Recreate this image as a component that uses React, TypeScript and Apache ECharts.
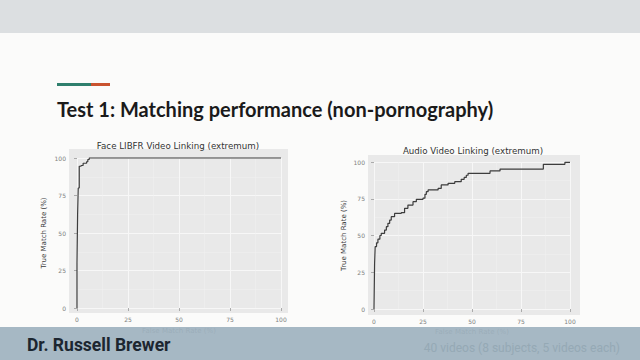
import React, { useEffect, useRef } from "react";
import * as echarts from "echarts";

const xTicks = [0, 25, 50, 75, 100];
const faceCurve: number[][] = [
  [0, 0], [0, 30], [0.3, 63], [0.6, 80], [1.1, 94.5], [2, 95], [3, 96.5],
  [4.7, 97.5], [5.3, 99], [6, 100], [100, 100],
];
const audioCurve: number[][] = [
  [0, 0], [0.3, 31], [0.6, 42.5], [1.3, 45], [2, 47.5], [3, 50], [3.7, 51.5],
  [5.4, 53.7], [6.3, 56], [7.1, 58.3], [8, 60.5], [8.8, 62.8], [10.5, 65],
  [13.9, 65.5], [15.6, 68.5], [17.3, 70.7], [19.9, 73], [21.6, 74.6], [25, 75.4],
  [26, 78], [26.7, 79.8], [27.6, 81], [32.7, 82], [34.3, 84.4], [37.8, 85.5],
  [41.2, 86.6], [44.5, 88.2], [46, 89.5], [47.1, 91], [48, 92.3], [59.2, 93.9],
  [64.3, 95.2], [86.4, 98.4], [97.4, 99.8], [100, 100],
];
const titles = ["Face LIBFR Video Linking (extremum)", "Audio Video Linking (extremum)"];
const xName = "False Match Rate (%)";
const yName = "True Match Rate (%)";
const slideTitle = "Test 1: Matching performance (non-pornography)";
const speaker = "Dr. Russell Brewer";
const footnote = "40 videos (8 subjects, 5 videos each)";

export default function App() {
  const ref = useRef<HTMLDivElement>(null);
  useEffect(() => {
    if (!ref.current) return;
    const chart = echarts.init(ref.current, undefined, { renderer: "svg" });
    const axisCommon = (gi: number, offset: number) => ({
      gridIndex: gi,
      type: "value" as const,
      min: xTicks[0],
      max: xTicks[xTicks.length - 1],
      interval: 25,
      offset,
      axisLine: { show: false },
      axisTick: { show: true, length: 3, lineStyle: { color: "#9a9a9a", width: 0.8 } },
      axisLabel: { fontSize: 6, color: "#808080", margin: 3, fontFamily: "DejaVu Sans" },
      splitLine: { show: true, lineStyle: { color: "#f7f7f7", width: 1 } },
      minorTick: { show: false, splitNumber: 2 },
      minorSplitLine: { show: true, lineStyle: { color: "#f0f0f0", width: 0.5 } },
      nameTextStyle: { fontSize: 7, color: "#3a3a3a", fontFamily: "DejaVu Sans" },
    });
    chart.setOption({
      animation: false,
      backgroundColor: "#fbfbfa",
      title: [
        { text: titles[0], left: 173, top: 136, textAlign: "center", textStyle: { fontSize: 8.7, fontWeight: "normal", color: "#333", fontFamily: "DejaVu Sans" } },
        { text: titles[1], left: 468, top: 141, textAlign: "center", textStyle: { fontSize: 8.7, fontWeight: "normal", color: "#333", fontFamily: "DejaVu Sans" } },
      ],
      grid: [
        { left: 77, right: 359, top: 158, bottom: 52 },
        { left: 374, right: 70, top: 162, bottom: 51 },
      ],
      xAxis: [
        { ...axisCommon(0, 5), name: xName, nameLocation: "middle", nameGap: 14 },
        { ...axisCommon(1, 6), name: xName, nameLocation: "middle", nameGap: 13 },
      ],
      yAxis: [
        { ...axisCommon(0, 8), name: yName, nameLocation: "middle", nameGap: 22 },
        { ...axisCommon(1, 6), name: yName, nameLocation: "middle", nameGap: 21 },
      ],
      series: [
        { type: "line", xAxisIndex: 0, yAxisIndex: 0, data: faceCurve, step: "end", showSymbol: false, clip: false, lineStyle: { color: "#3d3d3d", width: 1.2 } },
        { type: "line", xAxisIndex: 1, yAxisIndex: 1, data: audioCurve, step: "end", showSymbol: false, clip: false, lineStyle: { color: "#3d3d3d", width: 1.2 } },
      ],
      graphic: [
        { type: "rect", z: -10, shape: { x: 0, y: 0, width: 640, height: 33 }, style: { fill: "#dcdfe1" } },
        { type: "rect", z: -10, shape: { x: 69, y: 149, width: 219, height: 164 }, style: { fill: "#e9e9e9" } },
        { type: "rect", z: -10, shape: { x: 368, y: 155, width: 212, height: 160 }, style: { fill: "#e9e9e9" } },
        { type: "rect", z: 10, shape: { x: 57, y: 83, width: 34, height: 3 }, style: { fill: "#2f7f6d" } },
        { type: "rect", z: 10, shape: { x: 91, y: 83, width: 19, height: 3 }, style: { fill: "#c9532f" } },
        { type: "text", z: 10, x: 57, y: 109, style: { text: slideTitle, fontSize: 20, fontWeight: "bold", fontFamily: "Lato", fill: "#1a1a1a", textVerticalAlign: "middle" } },
        { type: "rect", z: 100, shape: { x: 0, y: 327, width: 640, height: 33 }, style: { fill: "rgba(160,180,192,0.94)" } },
        { type: "text", z: 110, x: 27, y: 345, style: { text: speaker, fontSize: 17.5, fontWeight: "bold", fontFamily: "Roboto", fill: "#1c2630", textVerticalAlign: "middle" } },
        { type: "text", z: 110, x: 620, y: 348, style: { text: footnote, fontSize: 12, fontFamily: "Roboto", fill: "#95a9b5", textAlign: "right", textVerticalAlign: "middle" } },
      ],
    });
    return () => chart.dispose();
  }, []);
  return <div ref={ref} style={{ position: "fixed", left: 0, top: 0, width: 640, height: 360 }} />;
}
